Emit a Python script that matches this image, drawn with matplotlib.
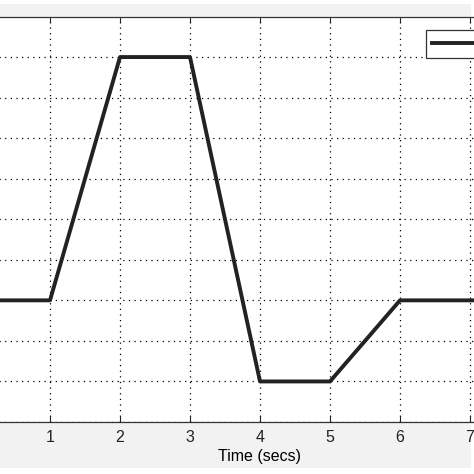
import matplotlib
matplotlib.use('Agg')
import matplotlib.pyplot as plt
from matplotlib.patches import Rectangle

# Data
time_secs = [0, 1, 2, 3, 4, 5, 6, 7, 8]
signal = [0, 0, 6, 6, -2, -2, 0, 0, 0]
x_ticks = [0, 1, 2, 3, 4, 5, 6, 7, 8]
y_ticks = [-3, -2, -1, 0, 1, 2, 3, 4, 5, 6, 7]

plt.rcParams['font.family'] = ['Liberation Sans', 'DejaVu Sans']

W = 474.0
fig = plt.figure(figsize=(4.74, 4.74), dpi=100)
fig.patch.set_facecolor('white')
# grey matlab figure background, slightly inset from the image edges
fig.patches.append(Rectangle((0, 6 / W), 471 / W, 1 - 10 / W,
                             transform=fig.transFigure, facecolor='#f2f2f2',
                             edgecolor='none', zorder=-10))

# axes: x=1 at 50px, 70px per unit, top spine 16.5px, bottom spine 422px
left = -20 / W
bottom = (W - 422) / W
width = 70 * 8 / W
height = 405.5 / W
ax = fig.add_axes([left, bottom, width, height])
ax.set_facecolor('white')

ax.plot(time_secs, signal, color='#222222', linewidth=2.8, label='Reference')

ax.set_xlim(0, 8)
ax.set_ylim(-3, 7)
ax.set_xticks(x_ticks)
ax.set_yticks(y_ticks)
ax.grid(True, color='black', linestyle=(0, (1, 3.5)), linewidth=0.9)
ax.tick_params(direction='in', length=4, width=0.8, top=True, right=True,
               labelsize=11.5, pad=6, colors='#222222')
for s in ax.spines.values():
    s.set_linewidth(0.9)
    s.set_color('#333333')

ax.set_xlabel('Time (secs)', fontsize=11.5, labelpad=3)

leg = ax.legend(loc='upper left', bbox_to_anchor=(426 / W, 1 - 30 / W),
                bbox_transform=fig.transFigure, borderaxespad=0,
                fontsize=11.5, fancybox=False, framealpha=1,
                edgecolor='#333333', handlelength=3.2, borderpad=0.4)
leg.get_frame().set_linewidth(0.9)

fig.savefig('out.png', dpi=100, facecolor=fig.get_facecolor())
